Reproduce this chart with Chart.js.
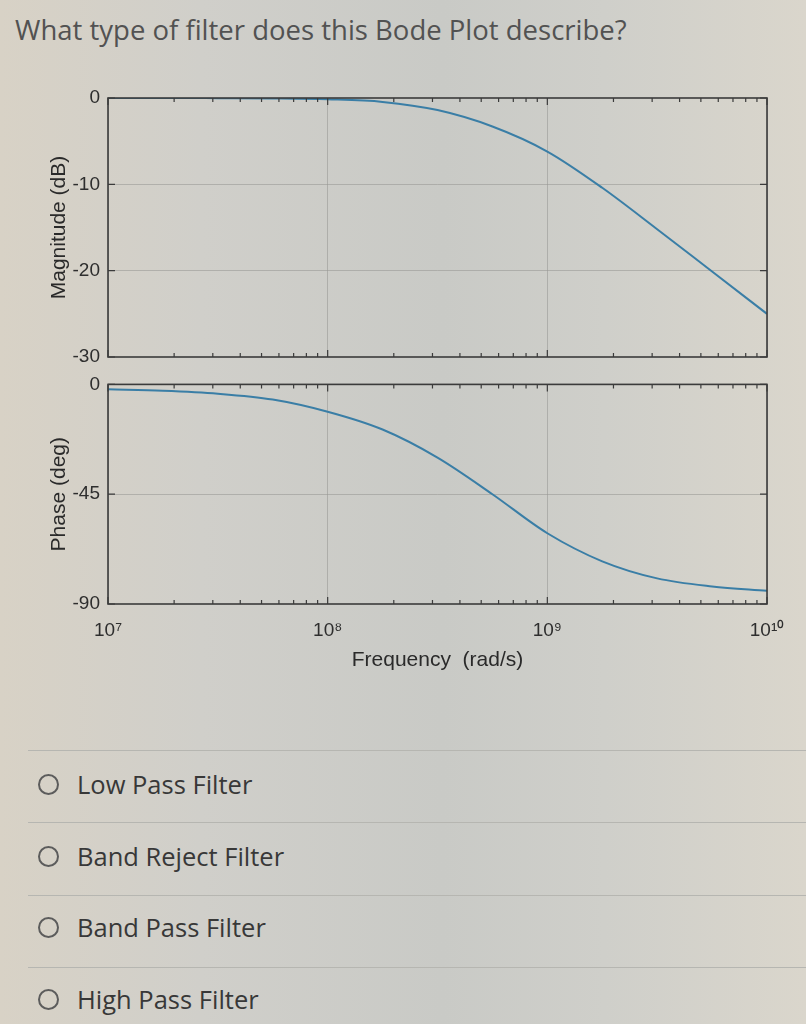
<!DOCTYPE html>
<html><head><meta charset="utf-8">
<script src="https://cdn.jsdelivr.net/npm/chart.js@4"></script>
<style>
html,body{margin:0;padding:0;}
body{width:806px;height:1024px;position:relative;overflow:hidden;
 background:linear-gradient(90deg,#d8d2c6 0%,#d0cfca 25%,#c9cac6 55%,#cfcfca 75%,#dad6cc 100%);
 font-family:'Open Sans',Lato,sans-serif;font-variant-ligatures:none;}
#q{position:absolute;left:15px;top:11px;font-size:27.5px;color:#525252;white-space:nowrap;}
canvas{position:absolute;left:0;}
#mag{top:60px;}
#ph{top:365px;}
.sep{position:absolute;left:28px;right:0;height:1px;background:#b6b6b1;}
.opt{position:absolute;left:38px;height:30px;display:flex;align-items:center;font-size:25.5px;color:#383838;white-space:nowrap;}
.rad{width:21px;height:21px;border:2px solid #5c5c5c;border-radius:50%;margin-right:18px;box-sizing:border-box;}
</style></head>
<body>
<div id="q">What type of filter does this Bode Plot describe?</div>
<canvas id="mag" width="806" height="320"></canvas>
<canvas id="ph" width="806" height="320"></canvas>
<div class="sep" style="top:750px"></div>
<div class="sep" style="top:822px"></div>
<div class="sep" style="top:895px"></div>
<div class="sep" style="top:967px"></div>
<div class="opt" style="top:769px"><div class="rad"></div>Low Pass Filter</div>
<div class="opt" style="top:841px"><div class="rad"></div>Band Reject Filter</div>
<div class="opt" style="top:912px"><div class="rad"></div>Band Pass Filter</div>
<div class="opt" style="top:984px"><div class="rad"></div>High Pass Filter</div>
<script>
// ---- data ----
const freqs = [1e7, 1.778e7, 3.162e7, 5.623e7, 1e8, 1.778e8, 3.162e8, 5.623e8, 1e9, 1.778e9, 3.162e9, 5.623e9, 1e10];
const magnitudeDb = [0, 0, -0.02, -0.05, -0.15, -0.45, -1.4, -3.3, -6.2, -10.4, -15.2, -20.1, -25.0];
const phaseDeg = [-2.0, -2.6, -3.8, -6.2, -11.2, -18.5, -30.0, -45.0, -61.0, -72.5, -79.5, -82.8, -84.6];
const magTicks = [0, -10, -20, -30];
const phaseTicks = [0, -45, -90];
const freqDecades = [7, 8, 9, 10];
const freqTickLabels = ['10\u2077', '10\u2078', '10\u2079', '10\u00b9\u2070'];

const AXIS_FONT = 'Liberation Sans, Arial, sans-serif';
const isPow10 = v => Math.abs(Math.log10(v) - Math.round(Math.log10(v))) < 1e-9;
const xTickValues = [];
freqDecades.forEach((e, i) => {
  const mults = i === freqDecades.length - 1 ? [1] : [1,2,3,4,5,6,7,8,9];
  mults.forEach(m => xTickValues.push(m * Math.pow(10, e)));
});

const matlabAxes = {
  id: 'matlabAxes',
  afterDraw(chart) {
    const {ctx, chartArea: a, scales: {x, y}} = chart;
    ctx.save();
    ctx.strokeStyle = '#3b3b3b';
    ctx.lineWidth = 1.2;
    x.ticks.forEach(t => {
      const px = x.getPixelForValue(t.value);
      const len = isPow10(t.value) ? 7 : 4;
      ctx.beginPath();
      ctx.moveTo(px, a.bottom); ctx.lineTo(px, a.bottom - len);
      ctx.moveTo(px, a.top); ctx.lineTo(px, a.top + len);
      ctx.stroke();
    });
    y.ticks.forEach(t => {
      const py = y.getPixelForValue(t.value);
      ctx.beginPath();
      ctx.moveTo(a.left, py); ctx.lineTo(a.left + 7, py);
      ctx.moveTo(a.right, py); ctx.lineTo(a.right - 7, py);
      ctx.stroke();
    });
    ctx.lineWidth = 1.6;
    ctx.strokeRect(a.left, a.top, a.right - a.left, a.bottom - a.top);
    ctx.restore();
  }
};

function makeChart(id, values, yTicks, yTitle, showX, pad, xHeight) {
  const yMin = Math.min(...yTicks), yMax = Math.max(...yTicks);
  return new Chart(document.getElementById(id), {
    type: 'line',
    data: {
      datasets: [{
        data: freqs.map((f, i) => ({x: f, y: values[i]})),
        borderColor: '#3a7ea6',
        borderWidth: 2,
        pointRadius: 0,
        cubicInterpolationMode: 'monotone',
        fill: false
      }]
    },
    options: {
      responsive: false,
      animation: false,
      devicePixelRatio: 1,
      layout: {padding: pad},
      plugins: {legend: {display: false}, tooltip: {enabled: false}},
      scales: {
        x: {
          type: 'logarithmic',
          min: xTickValues[0],
          max: xTickValues[xTickValues.length - 1],
          afterBuildTicks: s => { s.ticks = xTickValues.map(v => ({value: v})); },
          afterFit: s => { s.height = xHeight; },
          border: {display: false},
          grid: {drawTicks: false, lineWidth: 1,
            color: c => (c.tick && isPow10(c.tick.value)) ? 'rgba(150,150,145,0.55)' : 'rgba(0,0,0,0)'},
          ticks: {
            display: showX, autoSkip: false, maxRotation: 0, minRotation: 0, padding: 15,
            color: '#2e2e2e', font: {family: AXIS_FONT, size: 19},
            callback: v => isPow10(v) ? freqTickLabels[freqDecades.indexOf(Math.round(Math.log10(v)))] : ''
          },
          title: {display: showX, text: 'Frequency  (rad/s)', color: '#2a2a2a',
            font: {family: AXIS_FONT, size: 21}, padding: {top: 0, bottom: 12}}
        },
        y: {
          min: yMin, max: yMax,
          afterBuildTicks: s => { s.ticks = yTicks.map(v => ({value: v})); },
          afterFit: s => { s.width = 108; },
          border: {display: false},
          grid: {drawTicks: false, lineWidth: 1,
            color: c => (c.tick && c.tick.value !== yMin && c.tick.value !== yMax) ? 'rgba(150,150,145,0.55)' : 'rgba(0,0,0,0)'},
          ticks: {padding: 8, color: '#2e2e2e', font: {family: AXIS_FONT, size: 19}},
          title: {display: true, text: yTitle, color: '#2a2a2a',
            font: {family: AXIS_FONT, size: 21}, padding: {top: 47, bottom: 0}}
        }
      }
    },
    plugins: [matlabAxes]
  });
}

makeChart('mag', magnitudeDb, magTicks, 'Magnitude (dB)', false, {top: 38, right: 39, left: 0, bottom: 0}, 23);
makeChart('ph', phaseDeg, phaseTicks, 'Phase (deg)', true, {top: 13, right: 39, left: 0, bottom: 0}, 81);
</script>
</body></html>
